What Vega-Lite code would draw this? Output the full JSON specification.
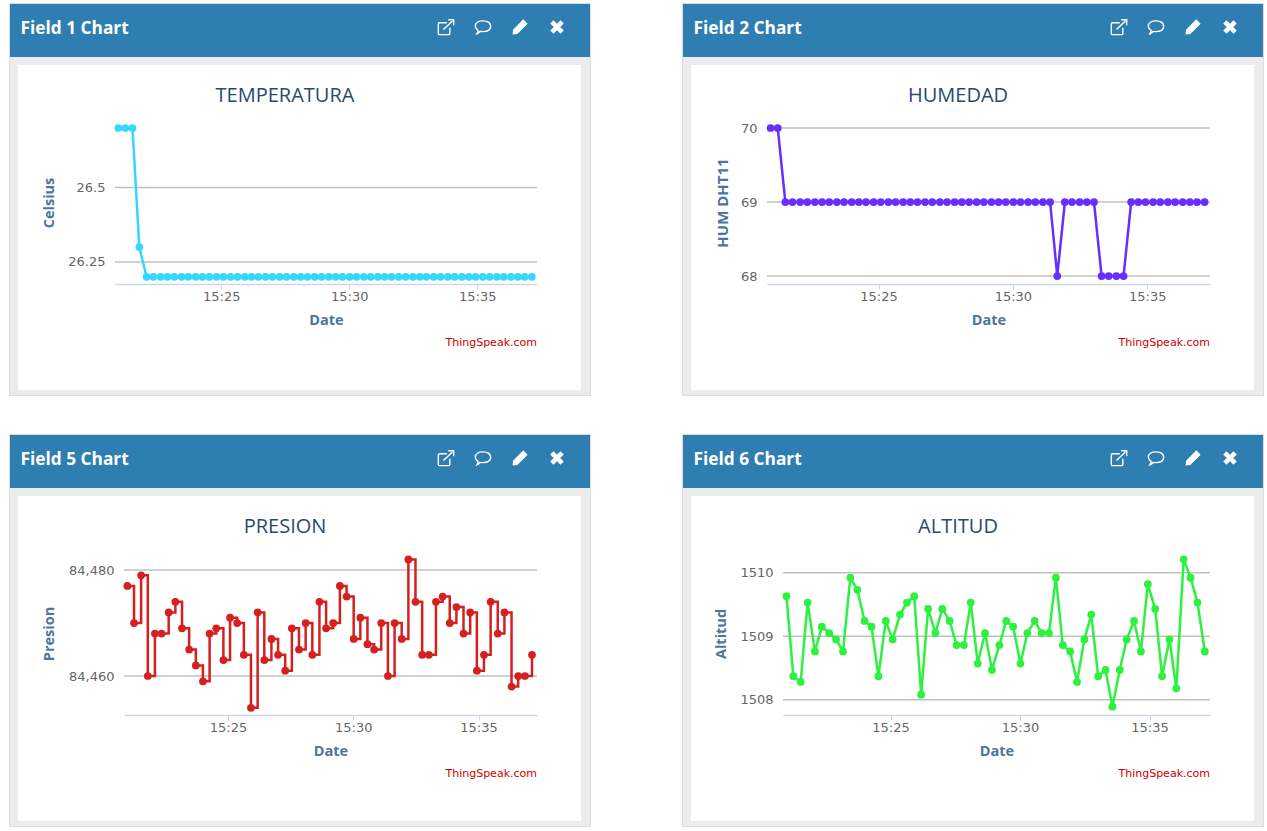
{"$schema":"https://vega.github.io/schema/vega-lite/v6.json","background":"white","padding":{"left":9,"top":3,"right":0,"bottom":0},"config":{"view":{"stroke":null},"font":"Open Sans"},"datasets":{"rows":[
{"t":"2024-01-01T15:20:59","temp":26.7,"hum":70,"pres":84477,"alt":1509.63},
{"t":"2024-01-01T15:21:15","temp":26.7,"hum":70,"pres":84470,"alt":1508.37},
{"t":"2024-01-01T15:21:32","temp":26.7,"hum":69,"pres":84479,"alt":1508.28},
{"t":"2024-01-01T15:21:48","temp":26.3,"hum":69,"pres":84460,"alt":1509.53},
{"t":"2024-01-01T15:22:05","temp":26.2,"hum":69,"pres":84468,"alt":1508.76},
{"t":"2024-01-01T15:22:21","temp":26.2,"hum":69,"pres":84468,"alt":1509.15},
{"t":"2024-01-01T15:22:38","temp":26.2,"hum":69,"pres":84472,"alt":1509.05},
{"t":"2024-01-01T15:22:54","temp":26.2,"hum":69,"pres":84474,"alt":1508.95},
{"t":"2024-01-01T15:23:10","temp":26.2,"hum":69,"pres":84469,"alt":1508.76},
{"t":"2024-01-01T15:23:27","temp":26.2,"hum":69,"pres":84465,"alt":1509.92},
{"t":"2024-01-01T15:23:43","temp":26.2,"hum":69,"pres":84462,"alt":1509.73},
{"t":"2024-01-01T15:24:00","temp":26.2,"hum":69,"pres":84459,"alt":1509.24},
{"t":"2024-01-01T15:24:16","temp":26.2,"hum":69,"pres":84468,"alt":1509.15},
{"t":"2024-01-01T15:24:32","temp":26.2,"hum":69,"pres":84469,"alt":1508.37},
{"t":"2024-01-01T15:24:49","temp":26.2,"hum":69,"pres":84463,"alt":1509.24},
{"t":"2024-01-01T15:25:05","temp":26.2,"hum":69,"pres":84471,"alt":1508.95},
{"t":"2024-01-01T15:25:22","temp":26.2,"hum":69,"pres":84470,"alt":1509.34},
{"t":"2024-01-01T15:25:38","temp":26.2,"hum":69,"pres":84464,"alt":1509.53},
{"t":"2024-01-01T15:25:55","temp":26.2,"hum":69,"pres":84454,"alt":1509.63},
{"t":"2024-01-01T15:26:11","temp":26.2,"hum":69,"pres":84472,"alt":1508.08},
{"t":"2024-01-01T15:26:27","temp":26.2,"hum":69,"pres":84463,"alt":1509.43},
{"t":"2024-01-01T15:26:44","temp":26.2,"hum":69,"pres":84467,"alt":1509.05},
{"t":"2024-01-01T15:27:00","temp":26.2,"hum":69,"pres":84464,"alt":1509.43},
{"t":"2024-01-01T15:27:17","temp":26.2,"hum":69,"pres":84461,"alt":1509.24},
{"t":"2024-01-01T15:27:33","temp":26.2,"hum":69,"pres":84469,"alt":1508.86},
{"t":"2024-01-01T15:27:50","temp":26.2,"hum":69,"pres":84465,"alt":1508.86},
{"t":"2024-01-01T15:28:06","temp":26.2,"hum":69,"pres":84470,"alt":1509.53},
{"t":"2024-01-01T15:28:22","temp":26.2,"hum":69,"pres":84464,"alt":1508.57},
{"t":"2024-01-01T15:28:39","temp":26.2,"hum":69,"pres":84474,"alt":1509.05},
{"t":"2024-01-01T15:28:55","temp":26.2,"hum":69,"pres":84469,"alt":1508.47},
{"t":"2024-01-01T15:29:12","temp":26.2,"hum":69,"pres":84470,"alt":1508.86},
{"t":"2024-01-01T15:29:28","temp":26.2,"hum":69,"pres":84477,"alt":1509.24},
{"t":"2024-01-01T15:29:44","temp":26.2,"hum":69,"pres":84475,"alt":1509.15},
{"t":"2024-01-01T15:30:01","temp":26.2,"hum":69,"pres":84467,"alt":1508.57},
{"t":"2024-01-01T15:30:17","temp":26.2,"hum":69,"pres":84471,"alt":1509.05},
{"t":"2024-01-01T15:30:34","temp":26.2,"hum":69,"pres":84466,"alt":1509.24},
{"t":"2024-01-01T15:30:50","temp":26.2,"hum":69,"pres":84465,"alt":1509.05},
{"t":"2024-01-01T15:31:07","temp":26.2,"hum":69,"pres":84470,"alt":1509.05},
{"t":"2024-01-01T15:31:23","temp":26.2,"hum":69,"pres":84460,"alt":1509.92},
{"t":"2024-01-01T15:31:39","temp":26.2,"hum":68,"pres":84470,"alt":1508.86},
{"t":"2024-01-01T15:31:56","temp":26.2,"hum":69,"pres":84467,"alt":1508.76},
{"t":"2024-01-01T15:32:12","temp":26.2,"hum":69,"pres":84482,"alt":1508.28},
{"t":"2024-01-01T15:32:29","temp":26.2,"hum":69,"pres":84474,"alt":1508.95},
{"t":"2024-01-01T15:32:45","temp":26.2,"hum":69,"pres":84464,"alt":1509.34},
{"t":"2024-01-01T15:33:01","temp":26.2,"hum":69,"pres":84464,"alt":1508.37},
{"t":"2024-01-01T15:33:18","temp":26.2,"hum":68,"pres":84474,"alt":1508.47},
{"t":"2024-01-01T15:33:34","temp":26.2,"hum":68,"pres":84475,"alt":1507.89},
{"t":"2024-01-01T15:33:51","temp":26.2,"hum":68,"pres":84470,"alt":1508.47},
{"t":"2024-01-01T15:34:07","temp":26.2,"hum":68,"pres":84473,"alt":1508.95},
{"t":"2024-01-01T15:34:24","temp":26.2,"hum":69,"pres":84468,"alt":1509.24},
{"t":"2024-01-01T15:34:40","temp":26.2,"hum":69,"pres":84472,"alt":1508.76},
{"t":"2024-01-01T15:34:56","temp":26.2,"hum":69,"pres":84461,"alt":1509.82},
{"t":"2024-01-01T15:35:13","temp":26.2,"hum":69,"pres":84464,"alt":1509.43},
{"t":"2024-01-01T15:35:29","temp":26.2,"hum":69,"pres":84474,"alt":1508.37},
{"t":"2024-01-01T15:35:46","temp":26.2,"hum":69,"pres":84468,"alt":1508.95},
{"t":"2024-01-01T15:36:02","temp":26.2,"hum":69,"pres":84472,"alt":1508.18},
{"t":"2024-01-01T15:36:19","temp":26.2,"hum":69,"pres":84458,"alt":1510.21},
{"t":"2024-01-01T15:36:35","temp":26.2,"hum":69,"pres":84460,"alt":1509.92},
{"t":"2024-01-01T15:36:51","temp":26.2,"hum":69,"pres":84460,"alt":1509.53},
{"t":"2024-01-01T15:37:08","temp":26.2,"hum":69,"pres":84464,"alt":1508.76}
],"icons":[{"icon":"open"},{"icon":"comment"},{"icon":"edit"},{"icon":"close"}],"credit":[{"c":"ThingSpeak.com"}],"frame":[{"s":"frame"}]},
"columns":2,"spacing":{"row":38,"column":91},
"concat":[
{"spacing":0,"vconcat":[
{"width":582,"height":1,"data":{"name":"frame"},"mark":{"type":"rect","color":"#dddddd"},"encoding":{}},
{"spacing":0,"hconcat":[
{"width":1,"height":391,"data":{"name":"frame"},"mark":{"type":"rect","color":"#dddddd"},"encoding":{}},
{"spacing":0,"vconcat":[
{"width":580,"height":53,"view":{"fill":"#2e7eb2"},"title":{"text":"Field 1 Chart","frame":"group","anchor":"start","dx":10.5,"offset":-42,"baseline":"middle","fontSize":17.3,"fontWeight":"bold","color":"white"},"data":{"name":"icons"},"mark":{"type":"point","filled":true,"stroke":"white","strokeWidth":1.4,"yOffset":-3.5,"opacity":1,"size":290},"encoding":{"x":{"field":"icon","type":"nominal","axis":null,"scale":{"domain":["open","comment","edit","close"],"range":[436,547],"padding":0}},"shape":{"field":"icon","type":"nominal","legend":null,"scale":{"domain":["open","comment","edit","close"],"range":["M0.45,0.1 V0.75 Q0.45,0.9 0.3,0.9 H-0.75 Q-0.9,0.9 -0.9,0.75 V-0.35 Q-0.9,-0.5 -0.75,-0.5 H0.1 M-0.3,0.3 L0.75,-0.7 M0.25,-0.85 H0.9 V-0.2","M-0.9,-0.09 C-0.9,-0.54 -0.45,-0.72 0,-0.72 C0.45,-0.72 0.9,-0.54 0.9,-0.09 C0.9,0.36 0.45,0.54 0,0.54 C-0.18,0.54 -0.27,0.54 -0.36,0.52 C-0.45,0.68 -0.58,0.76 -0.72,0.81 C-0.63,0.63 -0.58,0.5 -0.58,0.38 C-0.76,0.27 -0.9,0.09 -0.9,-0.09 Z","M0.39,-0.78 L0.78,-0.39 L-0.35,0.74 L-0.78,0.78 L-0.74,0.35 Z","M-0.68,-0.41 L-0.41,-0.68 L0,-0.27 L0.41,-0.68 L0.68,-0.41 L0.27,0 L0.68,0.41 L0.41,0.68 L0,0.27 L-0.41,0.68 L-0.68,0.41 L-0.27,0 Z"]}},"fill":{"field":"icon","type":"nominal","legend":null,"scale":{"domain":["open","comment","edit","close"],"range":["transparent","transparent","white","white"]}}}},
{"width":580,"height":8,"data":{"values":[{"s":"top"}]},"mark":{"type":"rect","color":"#ececec"},"encoding":{}},
{"spacing":0,"bounds":"flush","hconcat":[
{"width":8,"height":325,"data":{"values":[{"s":"left"}]},"mark":{"type":"rect","color":"#ececec"},"encoding":{}},
{"width":563,"height":325,"title":{"text":"TEMPERATURA","frame":"group","anchor":"middle","dx":-14.5,"offset":-51,"baseline":"middle","fontSize":20,"fontWeight":"normal","color":"#274b6d"},"layer":[
{"data":{"values":[{"g":26.25},{"g":26.5}]},"mark":{"type":"rule","color":"#c0c0c0","strokeWidth":1.5},"encoding":{"y":{"field":"g","type":"quantitative"},"x":{"datum":{"year":2024,"month":1,"date":1,"hours":15,"minutes":20,"seconds":51},"type":"temporal"},"x2":{"datum":{"year":2024,"month":1,"date":1,"hours":15,"minutes":37,"seconds":20}}}},
{"data":{"name":"rows"},"mark":{"type":"line","color":"#35d7ff","strokeWidth":2.5,"point":{"filled":true,"size":60,"color":"#35d7ff","opacity":1}},"encoding":{"x":{"field":"t","type":"temporal","scale":{"domain":[{"year":2024,"month":1,"date":1,"hours":15,"minutes":20,"seconds":51},{"year":2024,"month":1,"date":1,"hours":15,"minutes":37,"seconds":20}],"range":[97,519]},"axis":{"title":"Date","offset":-106,"format":"%H:%M","values":[{"year":2024,"month":1,"date":1,"hours":15,"minutes":25},{"year":2024,"month":1,"date":1,"hours":15,"minutes":30},{"year":2024,"month":1,"date":1,"hours":15,"minutes":35}],"grid":false,"domainColor":"#ccd6eb","domainWidth":1.5,"tickColor":"#ccd6eb","tickSize":5,"labelFont":"DejaVu Sans","labelColor":"#666666","labelFontSize":13,"labelPadding":1,"titleColor":"#4d759e","titleFontSize":14.5,"titleFontWeight":"bold","titleBaseline":"middle","titleY":36}},"y":{"field":"temp","type":"quantitative","scale":{"domain":[26.176,26.7],"range":[219,63],"zero":false,"nice":false},"axis":{"title":"Celsius","offset":-97,"values":[26.25,26.5],"labelExpr":"datum.value","grid":false,"domain":false,"ticks":false,"labelFont":"DejaVu Sans","labelColor":"#666666","labelFontSize":13,"labelPadding":10,"titleColor":"#4d759e","titleFontSize":14.5,"titleFontWeight":"bold","titleBaseline":"middle","titleX":-66,"titleY":137.5}}}},
{"data":{"name":"credit"},"mark":{"type":"text","align":"right","font":"DejaVu Sans","color":"#cc0000","fontSize":11,"yOffset":59},"encoding":{"text":{"field":"c"},"x":{"datum":{"year":2024,"month":1,"date":1,"hours":15,"minutes":37,"seconds":20},"type":"temporal"},"y":{"datum":26.176,"type":"quantitative"}}}
]},
{"width":9,"height":325,"data":{"values":[{"s":"right"}]},"mark":{"type":"rect","color":"#ececec"},"encoding":{}}
]},
{"width":580,"height":5,"data":{"values":[{"s":"bottom"}]},"mark":{"type":"rect","color":"#ececec"},"encoding":{}}
]},
{"width":1,"height":391,"data":{"name":"frame"},"mark":{"type":"rect","color":"#dddddd"},"encoding":{}}
]},
{"width":582,"height":1,"data":{"name":"frame"},"mark":{"type":"rect","color":"#dddddd"},"encoding":{}}
]},
{"spacing":0,"vconcat":[
{"width":582,"height":1,"data":{"name":"frame"},"mark":{"type":"rect","color":"#dddddd"},"encoding":{}},
{"spacing":0,"hconcat":[
{"width":1,"height":391,"data":{"name":"frame"},"mark":{"type":"rect","color":"#dddddd"},"encoding":{}},
{"spacing":0,"vconcat":[
{"width":580,"height":53,"view":{"fill":"#2e7eb2"},"title":{"text":"Field 2 Chart","frame":"group","anchor":"start","dx":10.5,"offset":-42,"baseline":"middle","fontSize":17.3,"fontWeight":"bold","color":"white"},"data":{"name":"icons"},"mark":{"type":"point","filled":true,"stroke":"white","strokeWidth":1.4,"yOffset":-3.5,"opacity":1,"size":290},"encoding":{"x":{"field":"icon","type":"nominal","axis":null,"scale":{"domain":["open","comment","edit","close"],"range":[436,547],"padding":0}},"shape":{"field":"icon","type":"nominal","legend":null,"scale":{"domain":["open","comment","edit","close"],"range":["M0.45,0.1 V0.75 Q0.45,0.9 0.3,0.9 H-0.75 Q-0.9,0.9 -0.9,0.75 V-0.35 Q-0.9,-0.5 -0.75,-0.5 H0.1 M-0.3,0.3 L0.75,-0.7 M0.25,-0.85 H0.9 V-0.2","M-0.9,-0.09 C-0.9,-0.54 -0.45,-0.72 0,-0.72 C0.45,-0.72 0.9,-0.54 0.9,-0.09 C0.9,0.36 0.45,0.54 0,0.54 C-0.18,0.54 -0.27,0.54 -0.36,0.52 C-0.45,0.68 -0.58,0.76 -0.72,0.81 C-0.63,0.63 -0.58,0.5 -0.58,0.38 C-0.76,0.27 -0.9,0.09 -0.9,-0.09 Z","M0.39,-0.78 L0.78,-0.39 L-0.35,0.74 L-0.78,0.78 L-0.74,0.35 Z","M-0.68,-0.41 L-0.41,-0.68 L0,-0.27 L0.41,-0.68 L0.68,-0.41 L0.27,0 L0.68,0.41 L0.41,0.68 L0,0.27 L-0.41,0.68 L-0.68,0.41 L-0.27,0 Z"]}},"fill":{"field":"icon","type":"nominal","legend":null,"scale":{"domain":["open","comment","edit","close"],"range":["transparent","transparent","white","white"]}}}},
{"width":580,"height":8,"data":{"values":[{"s":"top"}]},"mark":{"type":"rect","color":"#ececec"},"encoding":{}},
{"spacing":0,"bounds":"flush","hconcat":[
{"width":8,"height":325,"data":{"values":[{"s":"left"}]},"mark":{"type":"rect","color":"#ececec"},"encoding":{}},
{"width":563,"height":325,"title":{"text":"HUMEDAD","frame":"group","anchor":"middle","dx":-14.5,"offset":-51,"baseline":"middle","fontSize":20,"fontWeight":"normal","color":"#274b6d"},"layer":[
{"data":{"values":[{"g":68},{"g":69},{"g":70}]},"mark":{"type":"rule","color":"#c0c0c0","strokeWidth":1.5},"encoding":{"y":{"field":"g","type":"quantitative"},"x":{"datum":{"year":2024,"month":1,"date":1,"hours":15,"minutes":20,"seconds":51},"type":"temporal"},"x2":{"datum":{"year":2024,"month":1,"date":1,"hours":15,"minutes":37,"seconds":20}}}},
{"data":{"name":"rows"},"mark":{"type":"line","color":"#652fff","strokeWidth":2.5,"point":{"filled":true,"size":60,"color":"#652fff","opacity":1}},"encoding":{"x":{"field":"t","type":"temporal","scale":{"domain":[{"year":2024,"month":1,"date":1,"hours":15,"minutes":20,"seconds":51},{"year":2024,"month":1,"date":1,"hours":15,"minutes":37,"seconds":20}],"range":[76,519]},"axis":{"title":"Date","offset":-106,"format":"%H:%M","values":[{"year":2024,"month":1,"date":1,"hours":15,"minutes":25},{"year":2024,"month":1,"date":1,"hours":15,"minutes":30},{"year":2024,"month":1,"date":1,"hours":15,"minutes":35}],"grid":false,"domainColor":"#ccd6eb","domainWidth":1.5,"tickColor":"#ccd6eb","tickSize":5,"labelFont":"DejaVu Sans","labelColor":"#666666","labelFontSize":13,"labelPadding":1,"titleColor":"#4d759e","titleFontSize":14.5,"titleFontWeight":"bold","titleBaseline":"middle","titleY":36}},"y":{"field":"hum","type":"quantitative","scale":{"domain":[67.892,70],"range":[219,63],"zero":false,"nice":false},"axis":{"title":"HUM DHT11","offset":-76,"values":[68,69,70],"labelExpr":"datum.value","grid":false,"domain":false,"ticks":false,"labelFont":"DejaVu Sans","labelColor":"#666666","labelFontSize":13,"labelPadding":10,"titleColor":"#4d759e","titleFontSize":15,"titleFontWeight":"bold","titleBaseline":"middle","titleX":-45,"titleY":137.5}}}},
{"data":{"name":"credit"},"mark":{"type":"text","align":"right","font":"DejaVu Sans","color":"#cc0000","fontSize":11,"yOffset":59},"encoding":{"text":{"field":"c"},"x":{"datum":{"year":2024,"month":1,"date":1,"hours":15,"minutes":37,"seconds":20},"type":"temporal"},"y":{"datum":67.892,"type":"quantitative"}}}
]},
{"width":9,"height":325,"data":{"values":[{"s":"right"}]},"mark":{"type":"rect","color":"#ececec"},"encoding":{}}
]},
{"width":580,"height":5,"data":{"values":[{"s":"bottom"}]},"mark":{"type":"rect","color":"#ececec"},"encoding":{}}
]},
{"width":1,"height":391,"data":{"name":"frame"},"mark":{"type":"rect","color":"#dddddd"},"encoding":{}}
]},
{"width":582,"height":1,"data":{"name":"frame"},"mark":{"type":"rect","color":"#dddddd"},"encoding":{}}
]},
{"spacing":0,"vconcat":[
{"width":582,"height":1,"data":{"name":"frame"},"mark":{"type":"rect","color":"#dddddd"},"encoding":{}},
{"spacing":0,"hconcat":[
{"width":1,"height":391,"data":{"name":"frame"},"mark":{"type":"rect","color":"#dddddd"},"encoding":{}},
{"spacing":0,"vconcat":[
{"width":580,"height":53,"view":{"fill":"#2e7eb2"},"title":{"text":"Field 5 Chart","frame":"group","anchor":"start","dx":10.5,"offset":-42,"baseline":"middle","fontSize":17.3,"fontWeight":"bold","color":"white"},"data":{"name":"icons"},"mark":{"type":"point","filled":true,"stroke":"white","strokeWidth":1.4,"yOffset":-3.5,"opacity":1,"size":290},"encoding":{"x":{"field":"icon","type":"nominal","axis":null,"scale":{"domain":["open","comment","edit","close"],"range":[436,547],"padding":0}},"shape":{"field":"icon","type":"nominal","legend":null,"scale":{"domain":["open","comment","edit","close"],"range":["M0.45,0.1 V0.75 Q0.45,0.9 0.3,0.9 H-0.75 Q-0.9,0.9 -0.9,0.75 V-0.35 Q-0.9,-0.5 -0.75,-0.5 H0.1 M-0.3,0.3 L0.75,-0.7 M0.25,-0.85 H0.9 V-0.2","M-0.9,-0.09 C-0.9,-0.54 -0.45,-0.72 0,-0.72 C0.45,-0.72 0.9,-0.54 0.9,-0.09 C0.9,0.36 0.45,0.54 0,0.54 C-0.18,0.54 -0.27,0.54 -0.36,0.52 C-0.45,0.68 -0.58,0.76 -0.72,0.81 C-0.63,0.63 -0.58,0.5 -0.58,0.38 C-0.76,0.27 -0.9,0.09 -0.9,-0.09 Z","M0.39,-0.78 L0.78,-0.39 L-0.35,0.74 L-0.78,0.78 L-0.74,0.35 Z","M-0.68,-0.41 L-0.41,-0.68 L0,-0.27 L0.41,-0.68 L0.68,-0.41 L0.27,0 L0.68,0.41 L0.41,0.68 L0,0.27 L-0.41,0.68 L-0.68,0.41 L-0.27,0 Z"]}},"fill":{"field":"icon","type":"nominal","legend":null,"scale":{"domain":["open","comment","edit","close"],"range":["transparent","transparent","white","white"]}}}},
{"width":580,"height":8,"data":{"values":[{"s":"top"}]},"mark":{"type":"rect","color":"#ececec"},"encoding":{}},
{"spacing":0,"bounds":"flush","hconcat":[
{"width":8,"height":325,"data":{"values":[{"s":"left"}]},"mark":{"type":"rect","color":"#ececec"},"encoding":{}},
{"width":563,"height":325,"title":{"text":"PRESION","frame":"group","anchor":"middle","dx":-14.5,"offset":-51,"baseline":"middle","fontSize":20,"fontWeight":"normal","color":"#274b6d"},"layer":[
{"data":{"values":[{"g":84460},{"g":84480}]},"mark":{"type":"rule","color":"#c0c0c0","strokeWidth":1.5},"encoding":{"y":{"field":"g","type":"quantitative"},"x":{"datum":{"year":2024,"month":1,"date":1,"hours":15,"minutes":20,"seconds":51},"type":"temporal"},"x2":{"datum":{"year":2024,"month":1,"date":1,"hours":15,"minutes":37,"seconds":20}}}},
{"data":{"name":"rows"},"mark":{"type":"line","color":"#d62020","strokeWidth":2.5,"interpolate":"step-after","point":{"filled":true,"size":60,"color":"#d62020","opacity":1}},"encoding":{"x":{"field":"t","type":"temporal","scale":{"domain":[{"year":2024,"month":1,"date":1,"hours":15,"minutes":20,"seconds":51},{"year":2024,"month":1,"date":1,"hours":15,"minutes":37,"seconds":20}],"range":[106,519]},"axis":{"title":"Date","offset":-106,"format":"%H:%M","values":[{"year":2024,"month":1,"date":1,"hours":15,"minutes":25},{"year":2024,"month":1,"date":1,"hours":15,"minutes":30},{"year":2024,"month":1,"date":1,"hours":15,"minutes":35}],"grid":false,"domainColor":"#ccd6eb","domainWidth":1.5,"tickColor":"#ccd6eb","tickSize":5,"labelFont":"DejaVu Sans","labelColor":"#666666","labelFontSize":13,"labelPadding":1,"titleColor":"#4d759e","titleFontSize":14.5,"titleFontWeight":"bold","titleBaseline":"middle","titleY":36}},"y":{"field":"pres","type":"quantitative","scale":{"domain":[84452.64,84482.08],"range":[219,63],"zero":false,"nice":false},"axis":{"title":"Presion","offset":-106,"values":[84460,84480],"format":",","grid":false,"domain":false,"ticks":false,"labelFont":"DejaVu Sans","labelColor":"#666666","labelFontSize":13,"labelPadding":10,"titleColor":"#4d759e","titleFontSize":14.5,"titleFontWeight":"bold","titleBaseline":"middle","titleX":-75,"titleY":137.5}}}},
{"data":{"name":"credit"},"mark":{"type":"text","align":"right","font":"DejaVu Sans","color":"#cc0000","fontSize":11,"yOffset":59},"encoding":{"text":{"field":"c"},"x":{"datum":{"year":2024,"month":1,"date":1,"hours":15,"minutes":37,"seconds":20},"type":"temporal"},"y":{"datum":84452.64,"type":"quantitative"}}}
]},
{"width":9,"height":325,"data":{"values":[{"s":"right"}]},"mark":{"type":"rect","color":"#ececec"},"encoding":{}}
]},
{"width":580,"height":5,"data":{"values":[{"s":"bottom"}]},"mark":{"type":"rect","color":"#ececec"},"encoding":{}}
]},
{"width":1,"height":391,"data":{"name":"frame"},"mark":{"type":"rect","color":"#dddddd"},"encoding":{}}
]},
{"width":582,"height":1,"data":{"name":"frame"},"mark":{"type":"rect","color":"#dddddd"},"encoding":{}}
]},
{"spacing":0,"vconcat":[
{"width":582,"height":1,"data":{"name":"frame"},"mark":{"type":"rect","color":"#dddddd"},"encoding":{}},
{"spacing":0,"hconcat":[
{"width":1,"height":391,"data":{"name":"frame"},"mark":{"type":"rect","color":"#dddddd"},"encoding":{}},
{"spacing":0,"vconcat":[
{"width":580,"height":53,"view":{"fill":"#2e7eb2"},"title":{"text":"Field 6 Chart","frame":"group","anchor":"start","dx":10.5,"offset":-42,"baseline":"middle","fontSize":17.3,"fontWeight":"bold","color":"white"},"data":{"name":"icons"},"mark":{"type":"point","filled":true,"stroke":"white","strokeWidth":1.4,"yOffset":-3.5,"opacity":1,"size":290},"encoding":{"x":{"field":"icon","type":"nominal","axis":null,"scale":{"domain":["open","comment","edit","close"],"range":[436,547],"padding":0}},"shape":{"field":"icon","type":"nominal","legend":null,"scale":{"domain":["open","comment","edit","close"],"range":["M0.45,0.1 V0.75 Q0.45,0.9 0.3,0.9 H-0.75 Q-0.9,0.9 -0.9,0.75 V-0.35 Q-0.9,-0.5 -0.75,-0.5 H0.1 M-0.3,0.3 L0.75,-0.7 M0.25,-0.85 H0.9 V-0.2","M-0.9,-0.09 C-0.9,-0.54 -0.45,-0.72 0,-0.72 C0.45,-0.72 0.9,-0.54 0.9,-0.09 C0.9,0.36 0.45,0.54 0,0.54 C-0.18,0.54 -0.27,0.54 -0.36,0.52 C-0.45,0.68 -0.58,0.76 -0.72,0.81 C-0.63,0.63 -0.58,0.5 -0.58,0.38 C-0.76,0.27 -0.9,0.09 -0.9,-0.09 Z","M0.39,-0.78 L0.78,-0.39 L-0.35,0.74 L-0.78,0.78 L-0.74,0.35 Z","M-0.68,-0.41 L-0.41,-0.68 L0,-0.27 L0.41,-0.68 L0.68,-0.41 L0.27,0 L0.68,0.41 L0.41,0.68 L0,0.27 L-0.41,0.68 L-0.68,0.41 L-0.27,0 Z"]}},"fill":{"field":"icon","type":"nominal","legend":null,"scale":{"domain":["open","comment","edit","close"],"range":["transparent","transparent","white","white"]}}}},
{"width":580,"height":8,"data":{"values":[{"s":"top"}]},"mark":{"type":"rect","color":"#ececec"},"encoding":{}},
{"spacing":0,"bounds":"flush","hconcat":[
{"width":8,"height":325,"data":{"values":[{"s":"left"}]},"mark":{"type":"rect","color":"#ececec"},"encoding":{}},
{"width":563,"height":325,"title":{"text":"ALTITUD","frame":"group","anchor":"middle","dx":-14.5,"offset":-51,"baseline":"middle","fontSize":20,"fontWeight":"normal","color":"#274b6d"},"layer":[
{"data":{"values":[{"g":1508},{"g":1509},{"g":1510}]},"mark":{"type":"rule","color":"#c0c0c0","strokeWidth":1.5},"encoding":{"y":{"field":"g","type":"quantitative"},"x":{"datum":{"year":2024,"month":1,"date":1,"hours":15,"minutes":20,"seconds":51},"type":"temporal"},"x2":{"datum":{"year":2024,"month":1,"date":1,"hours":15,"minutes":37,"seconds":20}}}},
{"data":{"name":"rows"},"mark":{"type":"line","color":"#2cf23f","strokeWidth":2.5,"point":{"filled":true,"size":60,"color":"#2cf23f","opacity":1}},"encoding":{"x":{"field":"t","type":"temporal","scale":{"domain":[{"year":2024,"month":1,"date":1,"hours":15,"minutes":20,"seconds":51},{"year":2024,"month":1,"date":1,"hours":15,"minutes":37,"seconds":20}],"range":[92,519]},"axis":{"title":"Date","offset":-106,"format":"%H:%M","values":[{"year":2024,"month":1,"date":1,"hours":15,"minutes":25},{"year":2024,"month":1,"date":1,"hours":15,"minutes":30},{"year":2024,"month":1,"date":1,"hours":15,"minutes":35}],"grid":false,"domainColor":"#ccd6eb","domainWidth":1.5,"tickColor":"#ccd6eb","tickSize":5,"labelFont":"DejaVu Sans","labelColor":"#666666","labelFontSize":13,"labelPadding":1,"titleColor":"#4d759e","titleFontSize":14.5,"titleFontWeight":"bold","titleBaseline":"middle","titleY":36}},"y":{"field":"alt","type":"quantitative","scale":{"domain":[1507.76,1510.215],"range":[219,63],"zero":false,"nice":false},"axis":{"title":"Altitud","offset":-92,"values":[1508,1509,1510],"labelExpr":"datum.value","grid":false,"domain":false,"ticks":false,"labelFont":"DejaVu Sans","labelColor":"#666666","labelFontSize":13,"labelPadding":10,"titleColor":"#4d759e","titleFontSize":14.5,"titleFontWeight":"bold","titleBaseline":"middle","titleX":-62,"titleY":137.5}}}},
{"data":{"name":"credit"},"mark":{"type":"text","align":"right","font":"DejaVu Sans","color":"#cc0000","fontSize":11,"yOffset":59},"encoding":{"text":{"field":"c"},"x":{"datum":{"year":2024,"month":1,"date":1,"hours":15,"minutes":37,"seconds":20},"type":"temporal"},"y":{"datum":1507.76,"type":"quantitative"}}}
]},
{"width":9,"height":325,"data":{"values":[{"s":"right"}]},"mark":{"type":"rect","color":"#ececec"},"encoding":{}}
]},
{"width":580,"height":5,"data":{"values":[{"s":"bottom"}]},"mark":{"type":"rect","color":"#ececec"},"encoding":{}}
]},
{"width":1,"height":391,"data":{"name":"frame"},"mark":{"type":"rect","color":"#dddddd"},"encoding":{}}
]},
{"width":582,"height":1,"data":{"name":"frame"},"mark":{"type":"rect","color":"#dddddd"},"encoding":{}}
]}
]}
